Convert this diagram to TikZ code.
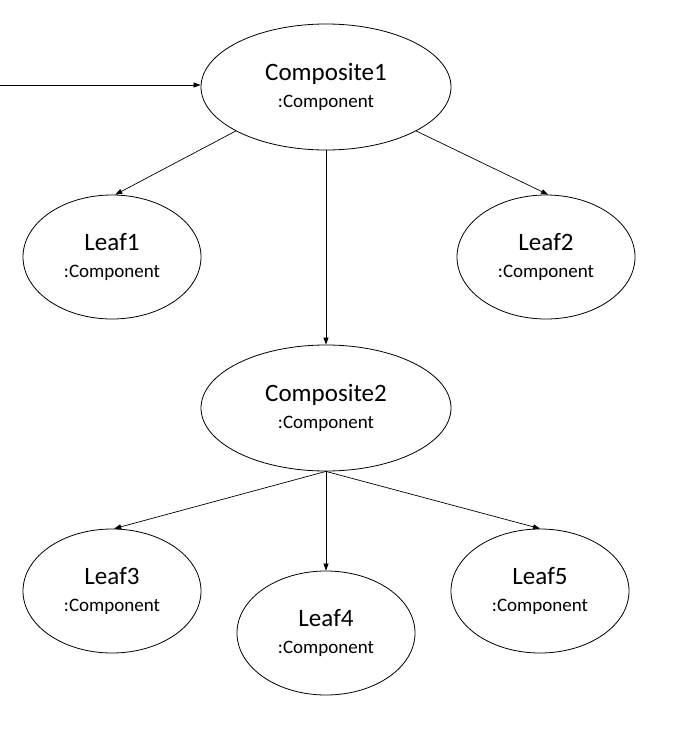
\documentclass[tikz,border=0pt]{standalone}
\usepackage{fontspec}
\setmainfont{Carlito}
\usetikzlibrary{shapes.geometric,arrows.meta}
\begin{document}
\begin{tikzpicture}[x=1pt,y=-1pt,
  obj/.style={ellipse,draw,line width=0.8pt,inner sep=0pt,align=center,font=\fontsize{19}{27}\selectfont},
  big/.style={obj,minimum width=250pt,minimum height=126pt},
  small/.style={obj,minimum width=178pt,minimum height=124pt},
  arr/.style={-{Triangle[length=7pt,width=5pt]},line width=0.7pt}]
\useasboundingbox (0,0) rectangle (676,744);
\newcommand{\obj}[1]{{\fontsize{25}{27}\selectfont #1}\\{:Component}}
\node[big] (c1) at (326,87) {\obj{Composite1}};
\node[small] (l1) at (112,257) {\obj{Leaf1}};
\node[small] (l2) at (546,257) {\obj{Leaf2}};
\node[big] (c2) at (326,408) {\obj{Composite2}};
\node[small] (l3) at (112,591) {\obj{Leaf3}};
\node[small] (l4) at (326,633) {\obj{Leaf4}};
\node[small] (l5) at (540,591) {\obj{Leaf5}};
\coordinate (in) at (0,85);
\draw[arr] (in) -- (c1.west |- in);
\draw[arr] (c1.206) -- (l1.87);
\draw[arr] (c1.south) -- (c2.north);
\draw[arr] (c1.334) -- (l2.88);
\draw[arr] (c2.south) -- (l3.88);
\draw[arr] (c2.south) -- (l4.north);
\draw[arr] (c2.south) -- (l5.90);
\end{tikzpicture}
\end{document}
